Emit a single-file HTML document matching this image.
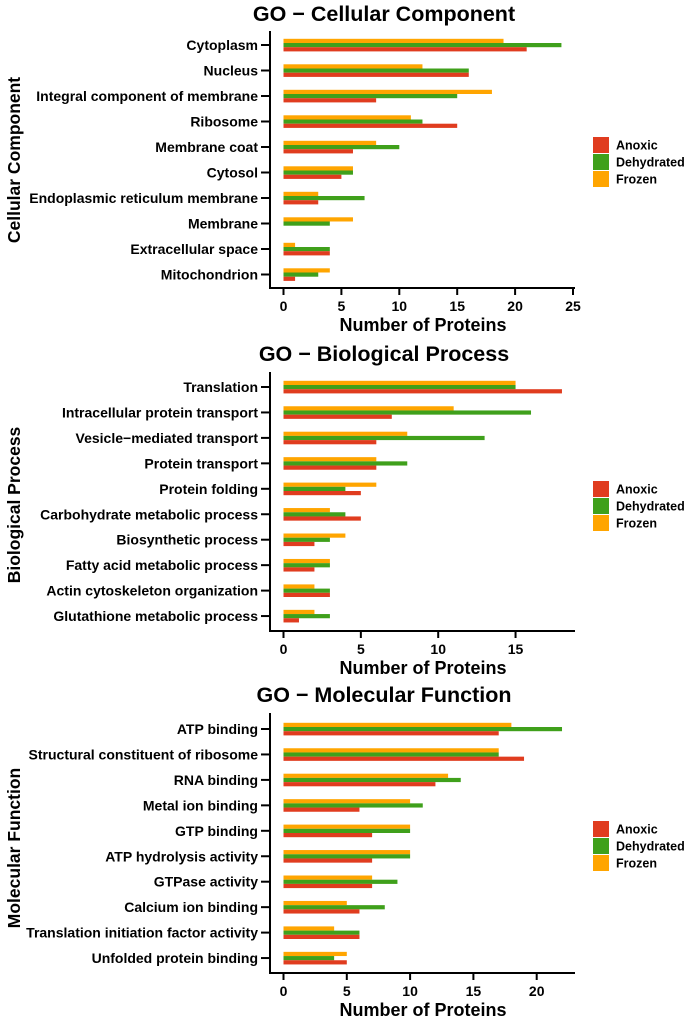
<!DOCTYPE html>
<html><head><meta charset="utf-8"><style>
html,body{margin:0;padding:0;background:#fff;}
svg{display:block;font-family:"Liberation Sans",Arial,sans-serif;font-weight:bold;}
</style></head><body>
<svg id="chart" width="685" height="1017" viewBox="0 0 685 1017" xmlns="http://www.w3.org/2000/svg"></svg>
<script>
// Panel 1 data
const ccTerms = ["Cytoplasm","Nucleus","Integral component of membrane","Ribosome","Membrane coat","Cytosol","Endoplasmic reticulum membrane","Membrane","Extracellular space","Mitochondrion"];
const ccAnoxic = [21,16,8,15,6,5,3,0,4,1];
const ccDehydrated = [24,16,15,12,10,6,7,4,4,3];
const ccFrozen = [19,12,18,11,8,6,3,6,1,4];
const ccTicks = [0,5,10,15,20,25];
// Panel 2 data
const bpTerms = ["Translation","Intracellular protein transport","Vesicle\u2212mediated transport","Protein transport","Protein folding","Carbohydrate metabolic process","Biosynthetic process","Fatty acid metabolic process","Actin cytoskeleton organization","Glutathione metabolic process"];
const bpAnoxic = [18,7,6,6,5,5,2,2,3,1];
const bpDehydrated = [15,16,13,8,4,4,3,3,3,3];
const bpFrozen = [15,11,8,6,6,3,4,3,2,2];
const bpTicks = [0,5,10,15];
// Panel 3 data
const mfTerms = ["ATP binding","Structural constituent of ribosome","RNA binding","Metal ion binding","GTP binding","ATP hydrolysis activity","GTPase activity","Calcium ion binding","Translation initiation factor activity","Unfolded protein binding"];
const mfAnoxic = [17,19,12,6,7,7,7,6,6,5];
const mfDehydrated = [22,17,14,11,10,10,9,8,6,4];
const mfFrozen = [18,17,13,10,10,10,7,5,4,5];
const mfTicks = [0,5,10,15,20];
const seriesNames = ["Anoxic","Dehydrated","Frozen"];

const NS="http://www.w3.org/2000/svg";
const svg=document.getElementById('chart');
const COL={Anoxic:"#E03C1F",Dehydrated:"#3FA01B",Frozen:"#FFA500"};
function mk(tag,attrs,parent,txt){const e=document.createElementNS(NS,tag);for(const k in attrs)e.setAttribute(k,attrs[k]);if(txt!==undefined)e.textContent=txt;(parent||svg).appendChild(e);return e;}

function panel(o){
  const g=mk('g',{});
  
  
  const x0=283.5, xs=v=>x0+v*o.ppu;
  const yc=i=>o.y0+i*o.step;
  const t=mk('text',{x:384,y:o.titleY,'text-anchor':'middle','font-size':21.5},g,o.title);
  
  
  const yt=mk('text',{x:0,y:0,'text-anchor':'middle','font-size':17.5,transform:`translate(20,${o.yTitleC}) rotate(-90)`},g,o.ytitle);
  
  
  mk('line',{x1:270,y1:o.axTop,x2:270,y2:o.axY+1,stroke:'#000','stroke-width':2},g);
  mk('line',{x1:269,y1:o.axY,x2:575,y2:o.axY,stroke:'#000','stroke-width':2},g);
  o.terms.forEach((term,i)=>{
    const y=yc(i);
    mk('line',{x1:261,y1:y,x2:270,y2:y,stroke:'#000','stroke-width':2},g);
    const l=mk('text',{x:258,y:y+5,'text-anchor':'end','font-size':14},g,term);
    
    
    const vals=[o.frozen[i],o.dehy[i],o.anox[i]];
    const names=["Frozen","Dehydrated","Anoxic"];
    vals.forEach((v,k)=>{
      if(v<=0)return;
      const r=mk('rect',{x:x0,y:y-6.2+k*4.2,width:xs(v)-x0,height:4.2,fill:COL[names[k]]},g);
      
      
    });
  });
  o.ticks.forEach(v=>{
    const x=xs(v);
    mk('line',{x1:x,y1:o.axY,x2:x,y2:o.axY+7,stroke:'#000','stroke-width':2},g);
    const tl=mk('text',{x:x,y:o.axY+23,'text-anchor':'middle','font-size':14},g,String(v));
    
    
  });
  const xt=mk('text',{x:423,y:o.axY+43,'text-anchor':'middle','font-size':18},g,"Number of Proteins");
  
  
  seriesNames.forEach((n,k)=>{
    const ly=o.legY+k*17;
    const r=mk('rect',{x:593,y:ly,width:16,height:16,fill:COL[n]},g);
    
    
    const lt=mk('text',{x:616,y:ly+12.5,'font-size':12.5},g,n);
    
    
  });
}
panel({key:'cellular-component',title:"GO \u2212 Cellular Component",ytitle:"Cellular Component",terms:ccTerms,anox:ccAnoxic,dehy:ccDehydrated,frozen:ccFrozen,ticks:ccTicks,ppu:11.58,y0:45,step:25.5,axTop:31,axY:288,titleY:21,yTitleC:160,legY:137});
panel({key:'biological-process',title:"GO \u2212 Biological Process",ytitle:"Biological Process",terms:bpTerms,anox:bpAnoxic,dehy:bpDehydrated,frozen:bpFrozen,ticks:bpTicks,ppu:15.47,y0:387,step:25.45,axTop:372,axY:631,titleY:361,yTitleC:505,legY:481});
panel({key:'molecular-function',title:"GO \u2212 Molecular Function",ytitle:"Molecular Function",terms:mfTerms,anox:mfAnoxic,dehy:mfDehydrated,frozen:mfFrozen,ticks:mfTicks,ppu:12.66,y0:729,step:25.45,axTop:713,axY:973,titleY:702,yTitleC:848,legY:821});
</script>
</body></html>
